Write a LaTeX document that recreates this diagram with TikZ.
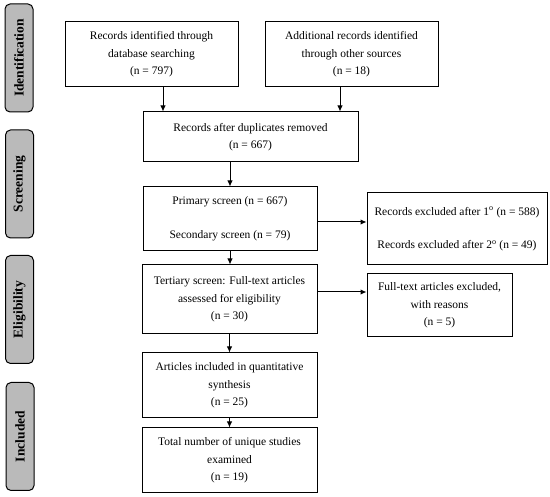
\documentclass[tikz,border=0pt]{standalone}
\usepackage{fontspec}
\setmainfont{Liberation Serif}
\usetikzlibrary{arrows.meta}

\tikzset{
  box/.style={draw, line width=1pt, align=center, inner sep=2pt,
    font=\fontsize{11.5}{17.5}\selectfont},
  phase/.style={draw, line width=1pt, fill=black!27, rounded corners=5pt,
    rotate=90, minimum width=108, minimum height=28, inner sep=0pt,
    font=\fontsize{13.5}{14}\selectfont\bfseries},
  arr/.style={line width=1pt, -{Latex[length=6pt,width=5.5pt]}}
}

\begin{document}
\begin{tikzpicture}[x=1pt,y=-1pt]
\useasboundingbox (0,0) rectangle (550,497);
\coordinate (P1) at (19,58);
\coordinate (P2) at (19.5,184);
\coordinate (P3) at (19.5,309.5);
\coordinate (P4) at (20,436.5);
\coordinate (B1) at (151.5,54.5);
\coordinate (B2) at (351.5,54.5);
\coordinate (B3) at (250.5,137);
\coordinate (B4) at (230,219);
\coordinate (B5) at (457,229);
\coordinate (B6) at (229.5,299.5);
\coordinate (B7) at (439.5,305.5);
\coordinate (B8) at (229.5,385.5);
\coordinate (B9) at (229.5,460.5);

% phase labels
\node [phase] (ident) at (P1) {Identification};
\node [phase] (screen) at (P2) {Screening};
\node [phase] (elig) at (P3) {Eligibility};
\node [phase] (incl) at (P4) {Included};

% boxes
\node [box, minimum width=173, minimum height=65] (db) at (B1)
  {Records identified through\\database searching\\(n = 797)};
\node [box, minimum width=173, minimum height=65] (other) at (B2)
  {Additional records identified\\through other sources\\(n = 18)};
\node [box, minimum width=215, minimum height=50] (dup) at (B3)
  {Records after duplicates removed\\(n = 667)};
\node [box, minimum width=174, minimum height=64] (prim) at (B4)
  {Primary screen (n = 667)\\[16pt]Secondary screen (n = 79)};
\node [box, minimum width=180, minimum height=72] (excl) at (B5)
  {Records excluded after 1\textsuperscript{o} (n = 588)\\[16pt]Records excluded after 2\textsuperscript{o} (n = 49)};
\node [box, minimum width=175, minimum height=69] (tert) at (B6)
  {Tertiary screen: Full-text articles\\assessed for eligibility\\(n = 30)};
\node [box, minimum width=145, minimum height=63] (full) at (B7)
  {Full-text articles excluded,\\with reasons\\(n = 5)};
\node [box, minimum width=175, minimum height=65] (quant) at (B8)
  {Articles included in quantitative\\synthesis\\(n = 25)};
\node [box, minimum width=175, minimum height=65] (total) at (B9)
  {Total number of unique studies\\examined\\(n = 19)};

% arrows
\draw [arr] ([xshift=11.5]db.south) -- ([xshift=11.5]db.south |- dup.north);
\draw [arr] ([xshift=-11.5]other.south) -- ([xshift=-11.5]other.south |- dup.north);
\draw [arr] (dup.south -| prim.north) -- (prim.north);
\draw [arr] ([yshift=-3]prim.east) -- ([yshift=-3]prim.east -| excl.west);
\draw [arr] (prim.south) -- (prim.south |- tert.north);
\draw [arr] ([yshift=7.5]tert.east) -- ([yshift=7.5]tert.east -| full.west);
\draw [arr] (tert.south) -- (quant.north);
\draw [arr] (quant.south) -- (total.north);
\end{tikzpicture}
\end{document}
